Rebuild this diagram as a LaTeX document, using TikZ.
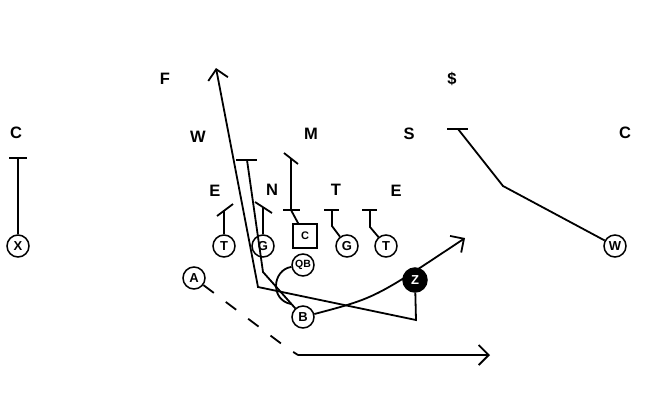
\documentclass[tikz,border=0pt]{standalone}
\usepackage{fontspec}
\setmainfont{Liberation Sans}
\usetikzlibrary{arrows.meta}

\begin{document}
\begin{tikzpicture}[x=1pt,y=-1pt,line width=1.8pt,
  man/.style={circle,draw,line width=1.5pt,inner sep=0pt,minimum size=22pt,font=\bfseries\fontsize{13}{13}\selectfont},
  defn/.style={font=\bfseries\fontsize{16.5}{16.5}\selectfont},
  route/.style={-{Straight Barb[length=10pt,width=20pt]}}]

  \useasboundingbox (0,0) rectangle (656,400);

  % defense
  \node[defn] (cl) at (16,133) {C};
  \node[defn] (f) at (165,79) {F};
  \node[defn] (wl) at (198,137) {W};
  \node[defn] (m) at (311,134) {M};
  \node[defn] (ss) at (452,79) {\$};
  \node[defn] (s) at (409,134) {S};
  \node[defn] (cr) at (625,133) {C};
  \node[defn] (e1) at (215,191) {E};
  \node[defn] (n) at (272,190) {N};
  \node[defn] (tk) at (336,190) {T};
  \node[defn] (e2) at (396,191) {E};

  % offense
  \node[man] (x) at (18,246) {X};
  \node[man] (t1) at (224,246) {T};
  \node[man] (g1) at (263,246) {G};
  \node[draw,line width=1.5pt,minimum size=24pt,inner sep=0pt,font=\bfseries\fontsize{11}{11}\selectfont] (c) at (305,236) {C};
  \node[man] (g2) at (347,246) {G};
  \node[man] (t2) at (386,246) {T};
  \node[man] (w) at (615,246) {W};
  \node[man,font=\bfseries\fontsize{10.5}{10.5}\selectfont] (qb) at (303,265) {QB};
  \node[man] (a) at (194,278) {A};
  \node[man] (b) at (303,317) {B};
  \node[man,fill=black,text=white,minimum size=24pt] (z) at (415,280) {Z};

  % route points
  \coordinate (xs) at (18,158);
  \coordinate (t1s) at (224,210);
  \coordinate (g1s) at (263,207);
  \coordinate (cs) at (291,210);
  \coordinate (ms) at (291,159);
  \coordinate (g2k) at (332,226);
  \coordinate (g2s) at (332,210);
  \coordinate (t2k) at (370,227);
  \coordinate (t2s) at (370,210);
  \coordinate (wk) at (503,186);
  \coordinate (ws) at (458,129);
  \coordinate (zk) at (416,320);
  \coordinate (zj) at (258,287);
  \coordinate (zend) at (216,68);
  \coordinate (bk) at (263,272);
  \coordinate (bs) at (247,160);
  \coordinate (bend) at (465,238);
  \coordinate (qbend) at (291,304);
  \coordinate (ak) at (287,348);
  \coordinate (aj) at (298,355);
  \coordinate (aend) at (490,355);

  % blocks
  \draw (x) -- (xs);
  \draw ([xshift=-9]xs) -- ([xshift=9]xs);
  \draw (t1) -- (t1s);
  \draw ([shift={(-7,6)}]t1s) -- ([shift={(9,-6)}]t1s);
  \draw (g1) -- (g1s);
  \draw ([shift={(-8,-5)}]g1s) -- ([shift={(9,6)}]g1s);
  \draw (c) -- (cs);
  \draw ([xshift=-8]cs) -- ([xshift=9]cs);
  \draw (cs) -- (ms);
  \draw ([shift={(-7,-6)}]ms) -- ([shift={(7,5)}]ms);
  \draw (g2) -- (g2k) -- (g2s);
  \draw ([xshift=-8]g2s) -- ([xshift=7]g2s);
  \draw (t2) -- (t2k) -- (t2s);
  \draw ([xshift=-8]t2s) -- ([xshift=7]t2s);
  \draw (w) -- (wk) -- (ws);
  \draw ([xshift=-11]ws) -- ([xshift=10]ws);

  % routes
  \draw[route] (z) -- (zk) -- (zj) -- (zend);
  \draw (b) -- (bk) -- (bs);
  \draw ([xshift=-11]bs) -- ([xshift=10]bs);
  \draw[route] (b) .. controls (375,298) .. (bend);
  \draw (qb) .. controls (272,270) and (270,300) .. (qbend);
  \draw[dash pattern=on 13pt off 15pt] (a) -- (ak) -- (aj);
  \draw[route] (aj) -- (aend);

\end{tikzpicture}
\end{document}
